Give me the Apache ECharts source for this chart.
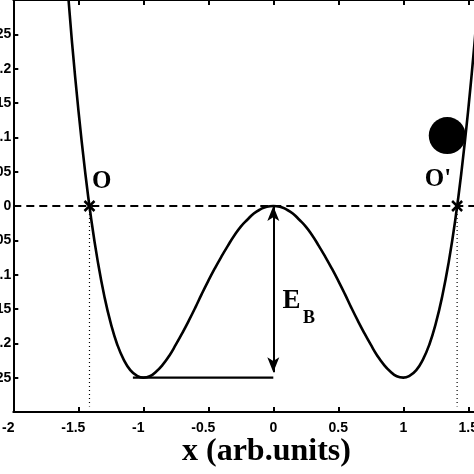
<!DOCTYPE html>
<html><head><meta charset="utf-8">
<script src="https://cdn.jsdelivr.net/npm/echarts@6/dist/echarts.min.js"></script>
<style>html,body{margin:0;padding:0;background:#fff}#c{width:474px;height:474px}</style>
</head><body><div id="c"></div>
<script>
// Potential curve
const xVals = [-1.6,-1.55,-1.5,-1.45,-1.4,-1.35,-1.3,-1.25,-1.2,-1.15,-1.1,-1.05,-1,-0.95,-0.9,-0.85,-0.8,-0.75,-0.7,-0.65,-0.6,-0.55,-0.5,-0.45,-0.4,-0.35,-0.3,-0.25,-0.2,-0.15,-0.1,-0.05,0,
  0.05,0.1,0.15,0.2,0.25,0.3,0.35,0.4,0.45,0.5,0.55,0.6,0.65,0.7,0.75,0.8,0.85,0.9,0.95,1,1.05,1.1,1.15,1.2,1.25,1.3,1.35,1.4,1.45,1.5,1.55,1.6];
const potential = [0.358,0.242,0.141,0.054,-0.020,-0.081,-0.131,-0.171,-0.202,-0.224,-0.239,-0.247,-0.250,-0.248,-0.241,-0.231,-0.218,-0.202,-0.185,-0.167,-0.148,-0.128,-0.109,-0.091,-0.074,-0.058,-0.043,-0.030,-0.020,-0.011,-0.005,-0.001,0,
  -0.001,-0.005,-0.011,-0.020,-0.030,-0.043,-0.058,-0.074,-0.091,-0.109,-0.128,-0.148,-0.167,-0.185,-0.202,-0.218,-0.231,-0.241,-0.248,-0.250,-0.247,-0.239,-0.224,-0.202,-0.171,-0.131,-0.081,-0.020,0.054,0.141,0.242,0.358];

// Annotations
const zeroLineX = [-2, 2];
const zeroLineY = [0, 0];
const barrierX = [-1.08, 0];
const barrierY = [-0.25, -0.25];
const turningX = [-1.414, 1.414];
const turningY = [0, 0];
const dropTopY = -0.006;
const dropBottomY = -0.292;
const arrowX = [0, 0];
const arrowY = [-0.242, 0.0];
const ballXY = [1.338, 0.1025];
const pointLabels = ['O', "O'"];
const pointLabelX = [-1.32, 1.267];
const pointLabelY = [0.036, 0.0387];
const ebX = [0.14, 0.275];
const ebY = [-0.1377, -0.164];
const ebText = ['E', 'B'];

const chart = echarts.init(document.getElementById('c'));
const curve = xVals.map((x, i) => [x, potential[i]]);
const tickFont = {fontFamily: 'Liberation Sans, Arial', fontWeight: 'bold', color: '#000'};
const axLine = {onZero: false, lineStyle: {color: '#000', width: 2}};
const axTick = {inside: true, length: 5, lineStyle: {color: '#000', width: 2}};
const serif = 'Liberation Serif, Times New Roman, serif';
const hidden = {color: 'rgba(0,0,0,0)', opacity: 1};

chart.setOption({
  animation: false,
  backgroundColor: '#fff',
  grid: {left: 13.3, right: -59.3, top: 0, bottom: 62, containLabel: false, outerBoundsMode: 'none'},
  xAxis: [
    {type: 'value', min: -2, max: 2, interval: 0.5, position: 'bottom',
     axisLine: axLine, axisTick: axTick,
     axisLabel: Object.assign({margin: 9, fontSize: 14,
       formatter: v => v < 0 ? '{n|' + v + '}' : String(v),
       rich: {n: {fontFamily: 'Liberation Sans, Arial', fontWeight: 'bold', fontSize: 14, color: '#000', padding: [0, 10, 0, 0]}}
     }, tickFont),
     splitLine: {show: false}},
    {type: 'value', min: -2, max: 2, interval: 0.5, position: 'top',
     axisLine: axLine, axisTick: axTick,
     axisLabel: {show: false}, splitLine: {show: false}}
  ],
  yAxis: [
    {type: 'value', min: -0.3, max: 0.3, interval: 0.05, position: 'left',
     axisLine: axLine, axisTick: axTick,
     axisLabel: Object.assign({margin: 2, fontSize: 14, showMinLabel: false, showMaxLabel: false}, tickFont),
     splitLine: {show: false}}
  ],
  graphic: [{
    type: 'text', left: 182, top: 436,
    style: {text: 'x (arb.units)', font: 'bold 32px "Liberation Serif", "Times New Roman", serif', fill: '#000'}
  }],
  series: [
    {type: 'line', data: curve, smooth: true, symbol: 'none', clip: true,
     lineStyle: {color: '#000', width: 2.6}, z: 5},
    {type: 'line', data: zeroLineX.map((x, i) => [x, zeroLineY[i]]), symbol: 'none',
     lineStyle: {color: '#000', width: 2, type: [8, 5]}},
    {type: 'line', data: barrierX.map((x, i) => [x, barrierY[i]]), symbol: 'none',
     lineStyle: {color: '#000', width: 2.4},
     markLine: {silent: true, symbol: ['arrow', 'arrow'], symbolSize: [9, 15],
       lineStyle: {color: '#000', width: 2, type: 'solid'}, label: {show: false},
       data: [[{coord: [arrowX[0], arrowY[0]]}, {coord: [arrowX[1], arrowY[1]]}]]}},
    {type: 'line', data: [[turningX[0], dropTopY], [turningX[0], dropBottomY]], symbol: 'none',
     lineStyle: {color: '#000', width: 1.2, type: [1, 3]}},
    {type: 'line', data: [[turningX[1], dropTopY], [turningX[1], dropBottomY]], symbol: 'none',
     lineStyle: {color: '#000', width: 1.2, type: [1, 3]}},
    {type: 'scatter', data: turningX.map((x, i) => [x, turningY[i]]),
     symbol: 'path://M0,0L10,10M10,0L0,10', symbolSize: 10,
     itemStyle: {color: 'none', borderColor: '#000', borderWidth: 2.5, opacity: 1}, z: 6},
    {type: 'scatter', data: [ballXY], symbol: 'circle', symbolSize: 37,
     itemStyle: {color: '#000', opacity: 1}, z: 6},
    {type: 'scatter', data: pointLabelX.map((x, i) => [x, pointLabelY[i], pointLabels[i]]),
     symbolSize: 1, itemStyle: hidden,
     label: {show: true, position: 'inside', formatter: p => p.data[2],
       fontFamily: serif, fontWeight: 'bold', fontSize: 25, color: '#000', opacity: 1}},
    {type: 'scatter', data: [[ebX[0], ebY[0], ebText[0]]],
     symbolSize: 1, itemStyle: hidden,
     label: {show: true, position: 'inside', formatter: p => p.data[2],
       fontFamily: serif, fontWeight: 'bold', fontSize: 27, color: '#000', opacity: 1}},
    {type: 'scatter', data: [[ebX[1], ebY[1], ebText[1]]],
     symbolSize: 1, itemStyle: hidden,
     label: {show: true, position: 'inside', formatter: p => p.data[2],
       fontFamily: serif, fontWeight: 'bold', fontSize: 18, color: '#000', opacity: 1}}
  ]
});
</script></body></html>
